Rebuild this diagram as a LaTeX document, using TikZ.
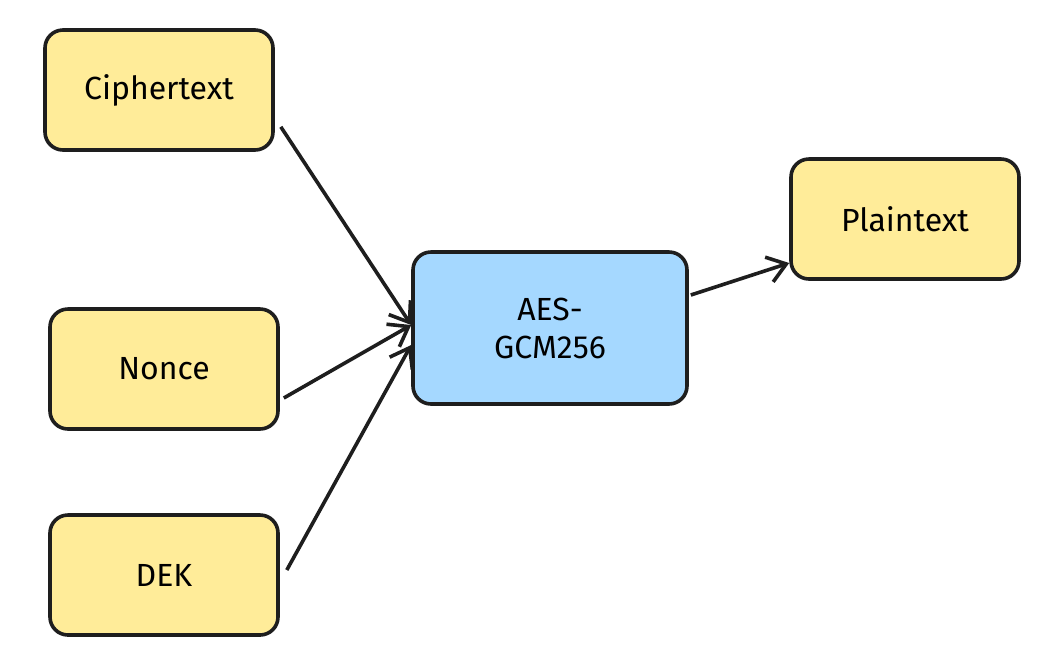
\documentclass[tikz,border=0pt]{standalone}
\usepackage{fontspec}
\setmainfont{Fira Sans}
\usetikzlibrary{arrows.meta}
\definecolor{boxyellow}{HTML}{FFEC99}
\definecolor{boxblue}{HTML}{A5D8FF}
\definecolor{inkline}{HTML}{1E1E1E}
\tikzset{
  box/.style={draw=inkline, line width=1.8pt, rounded corners=9pt, fill=boxyellow,
    minimum width=114pt, minimum height=60pt, font=\fontsize{16}{19}\selectfont, align=center},
  flow/.style={draw=inkline, line width=1.8pt, -{Straight Barb[length=9pt,width=13pt]}}
}
\begin{document}
\begin{tikzpicture}[x=0.5pt,y=-0.5pt]
    \useasboundingbox (0,0) rectangle (1054,666);

    \node[box] (cipher) at (159,90) {Ciphertext};
    \node[box] (nonce) at (164,369) {Nonce};
    \node[box] (dek) at (164,575) {DEK};
    \node[box, fill=boxblue, minimum width=137pt, minimum height=76pt] (aes) at (550,328) {AES-\\GCM256};
    \node[box] (plain) at (905,219) {Plaintext};

    \draw[flow] (cipher.south east) ++(6,-25) coordinate (c1) -- (aes.west |- 0,325);
    \draw[flow] (nonce.east) ++(4,29) -- (aes.west |- 0,325);
    \draw[flow] (dek.east) ++(7,-5) -- (aes.west |- 0,345);
    \draw[flow] (aes.east) ++(2,-33) -- (plain.west |- 0,263);
\end{tikzpicture}
\end{document}
